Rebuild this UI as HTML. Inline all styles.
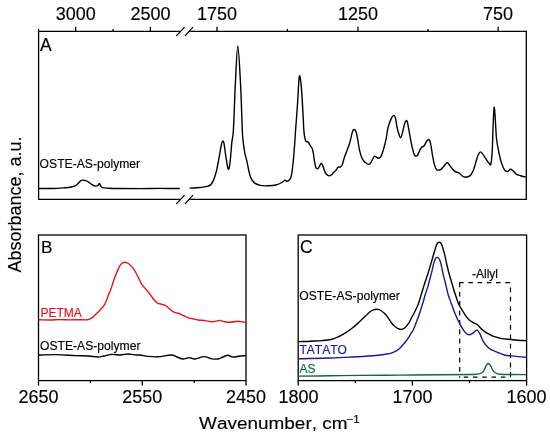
<!DOCTYPE html>
<html><head><meta charset="utf-8"><title>FTIR spectra</title>
<style>
html,body{margin:0;padding:0;background:#fff;}
svg{display:block;font-family:"Liberation Sans",Arial,sans-serif;font-kerning:none;font-feature-settings:"kern" 0;}
text{stroke:currentColor;stroke-width:0.15px;paint-order:stroke;}
</style></head>
<body>
<svg width="550" height="437" viewBox="0 0 550 437">
<rect width="550" height="437" fill="#fff"/>
<line x1="37.95" y1="31.3" x2="180.3" y2="31.3" stroke="#000" stroke-width="1.3"/>
<line x1="189.2" y1="31.3" x2="526.9499999999999" y2="31.3" stroke="#000" stroke-width="1.3"/>
<line x1="37.95" y1="199.3" x2="180.3" y2="199.3" stroke="#000" stroke-width="1.3"/>
<line x1="189.2" y1="199.3" x2="526.9499999999999" y2="199.3" stroke="#000" stroke-width="1.3"/>
<line x1="38.6" y1="31.3" x2="38.6" y2="199.3" stroke="#000" stroke-width="1.3"/>
<line x1="526.3" y1="31.3" x2="526.3" y2="199.3" stroke="#000" stroke-width="1.3"/>
<line x1="176.3" y1="35.9" x2="184.6" y2="27.1" stroke="#000" stroke-width="1.3"/>
<line x1="185.0" y1="35.9" x2="193.0" y2="27.1" stroke="#000" stroke-width="1.3"/>
<line x1="176.3" y1="203.9" x2="184.6" y2="195.10000000000002" stroke="#000" stroke-width="1.3"/>
<line x1="185.0" y1="203.9" x2="193.0" y2="195.10000000000002" stroke="#000" stroke-width="1.3"/>
<line x1="38.6" y1="28.900000000000002" x2="38.6" y2="31.3" stroke="#000" stroke-width="1.3"/>
<line x1="75.7" y1="26.8" x2="75.7" y2="31.3" stroke="#000" stroke-width="1.3"/>
<line x1="113.1" y1="28.900000000000002" x2="113.1" y2="31.3" stroke="#000" stroke-width="1.3"/>
<line x1="150.4" y1="26.8" x2="150.4" y2="31.3" stroke="#000" stroke-width="1.3"/>
<line x1="217" y1="26.8" x2="217" y2="31.3" stroke="#000" stroke-width="1.3"/>
<line x1="287.4" y1="28.900000000000002" x2="287.4" y2="31.3" stroke="#000" stroke-width="1.3"/>
<line x1="358" y1="26.8" x2="358" y2="31.3" stroke="#000" stroke-width="1.3"/>
<line x1="428" y1="28.900000000000002" x2="428" y2="31.3" stroke="#000" stroke-width="1.3"/>
<line x1="498.1" y1="26.8" x2="498.1" y2="31.3" stroke="#000" stroke-width="1.3"/>
<text transform="translate(75.7,19.6) scale(1,1.065)" font-size="18" text-anchor="middle" fill="#000" color="#000">3000</text>
<text transform="translate(150.4,19.6) scale(1,1.065)" font-size="18" text-anchor="middle" fill="#000" color="#000">2500</text>
<text transform="translate(217,19.6) scale(1,1.065)" font-size="18" text-anchor="middle" fill="#000" color="#000">1750</text>
<text transform="translate(358,19.6) scale(1,1.065)" font-size="18" text-anchor="middle" fill="#000" color="#000">1250</text>
<text transform="translate(498.1,19.6) scale(1,1.065)" font-size="18" text-anchor="middle" fill="#000" color="#000">750</text>
<text x="40.0" y="50.5" font-size="17.5" text-anchor="start" fill="#000" color="#000">A</text>
<text x="39.6" y="167.6" font-size="12.15" text-anchor="start" fill="#000" color="#000">OSTE-AS-polymer</text>
<path d="M38.6,188.5 C40.9,188.5 48.5,188.6 52.5,188.5 C56.5,188.4 59.5,188.2 62.7,187.9 C65.9,187.7 69.2,187.5 71.5,187.0 C73.8,186.5 74.9,186.1 76.5,185.0 C78.1,183.9 79.7,181.4 80.9,180.6 C82.1,179.8 82.7,180.1 83.8,180.2 C84.9,180.3 86.2,180.6 87.5,181.3 C88.8,182.0 90.6,183.7 91.8,184.5 C93.0,185.3 93.7,185.8 94.7,186.0 C95.7,186.2 96.8,186.1 97.6,185.7 C98.4,185.3 98.9,183.4 99.4,183.5 C99.9,183.6 100.2,185.3 100.8,186.0 C101.3,186.7 101.5,187.3 102.7,187.7 C103.9,188.1 105.2,188.1 107.8,188.2 C110.3,188.3 112.6,188.4 118.0,188.5 C123.4,188.6 133.0,188.6 140.0,188.6 C147.0,188.6 153.4,188.4 160.0,188.4 C166.6,188.4 176.5,188.5 179.8,188.5" fill="none" stroke="#000" stroke-width="1.4"/>
<path d="M189.5,188.1 C190.7,188.1 194.2,188.1 196.9,187.8 C199.6,187.6 203.6,187.1 205.8,186.6 C208.0,186.1 209.1,186.1 210.3,185.1 C211.6,184.1 212.3,182.8 213.3,180.6 C214.3,178.4 215.3,175.7 216.3,171.7 C217.3,167.7 218.3,161.4 219.2,156.8 C220.1,152.2 220.9,146.7 221.5,144.1 C222.1,141.5 222.3,141.3 222.7,141.2 C223.1,141.1 223.5,140.8 224.0,143.4 C224.5,146.0 225.2,152.5 225.9,156.8 C226.6,161.1 227.5,168.0 228.2,169.0 C228.9,170.0 229.4,167.3 230.0,162.8 C230.6,158.3 231.3,147.4 231.9,141.9 C232.5,136.4 232.8,139.5 233.4,130.0 C234.0,120.5 234.6,99.0 235.3,85.0 C236.0,71.0 236.9,46.0 237.8,46.0 C238.7,46.0 239.8,71.0 240.6,85.0 C241.3,99.0 241.9,120.5 242.3,130.0 C242.7,139.5 242.8,138.2 243.2,141.9 C243.6,145.6 244.1,149.1 244.7,152.3 C245.3,155.5 246.2,158.3 246.9,161.3 C247.6,164.3 248.1,167.5 248.7,170.2 C249.3,172.9 249.8,175.5 250.7,177.6 C251.6,179.7 252.8,181.6 254.4,182.9 C256.0,184.2 258.1,184.9 260.3,185.4 C262.5,185.9 265.1,185.9 267.8,185.8 C270.5,185.7 274.4,185.4 276.7,184.8 C279.0,184.2 280.5,183.2 281.9,182.4 C283.3,181.7 284.0,180.5 284.9,180.3 C285.8,180.1 286.3,181.6 287.1,181.4 C287.9,181.2 289.1,180.5 289.8,179.4 C290.6,178.3 291.0,178.0 291.6,174.7 C292.2,171.4 292.9,164.8 293.4,159.8 C293.9,154.8 294.2,149.9 294.6,144.9 C295.0,139.9 295.1,137.0 295.6,130.0 C296.1,123.0 297.0,111.7 297.6,102.7 C298.2,93.8 298.7,78.8 299.3,76.3 C299.9,73.8 300.8,81.1 301.4,87.6 C302.0,94.1 302.7,108.3 303.1,115.3 C303.5,122.3 303.5,125.8 303.8,129.6 C304.1,133.4 304.5,136.4 304.9,138.4 C305.3,140.4 305.7,141.0 306.2,141.6 C306.7,142.2 307.4,141.4 308.1,142.1 C308.8,142.8 309.5,144.5 310.2,145.6 C310.9,146.7 311.8,147.5 312.3,148.8 C312.8,150.1 313.0,151.5 313.4,153.6 C313.8,155.7 314.1,159.3 314.5,161.6 C314.9,163.9 315.3,166.0 315.8,167.2 C316.3,168.4 317.0,169.1 317.7,168.8 C318.4,168.5 319.2,166.5 319.8,165.6 C320.4,164.7 320.9,163.1 321.4,163.2 C321.9,163.3 322.3,164.8 323.0,166.4 C323.7,168.0 324.5,171.2 325.4,172.8 C326.3,174.4 327.7,175.3 328.6,175.7 C329.5,176.1 330.2,175.7 331.0,175.2 C331.8,174.7 332.6,173.6 333.4,172.8 C334.2,172.0 335.1,171.3 335.8,170.4 C336.6,169.5 337.2,167.7 337.9,167.2 C338.6,166.7 339.4,167.6 340.1,167.2 C340.8,166.8 341.4,166.5 342.2,164.8 C342.9,163.1 343.8,159.2 344.6,156.8 C345.4,154.4 346.2,152.5 347.0,150.4 C347.8,148.3 348.7,146.1 349.4,144.0 C350.1,141.9 350.5,139.7 351.0,137.6 C351.5,135.5 352.1,132.5 352.6,131.2 C353.2,129.8 353.7,129.4 354.3,129.5 C354.9,129.6 355.4,130.0 356.0,131.7 C356.6,133.3 357.1,136.4 357.7,139.4 C358.3,142.4 358.7,146.5 359.4,149.7 C360.1,152.8 361.0,156.2 362.0,158.3 C363.0,160.5 364.2,161.6 365.4,162.6 C366.5,163.6 367.9,164.5 368.9,164.3 C369.9,164.2 370.5,163.0 371.4,161.7 C372.2,160.4 373.3,157.4 374.0,156.6 C374.7,155.8 375.0,156.3 375.7,156.6 C376.4,156.9 377.4,158.3 378.3,158.3 C379.2,158.3 380.0,158.0 380.9,156.6 C381.8,155.2 382.5,152.6 383.4,149.7 C384.2,146.8 385.2,143.1 386.0,139.4 C386.8,135.7 387.2,130.8 388.1,127.4 C389.0,124.0 390.2,120.9 391.1,118.9 C392.0,116.9 393.0,115.6 393.7,115.4 C394.4,115.2 394.8,116.0 395.4,118.0 C396.0,120.0 396.5,124.7 397.1,127.4 C397.7,130.1 398.3,132.6 398.9,134.3 C399.5,136.0 400.0,137.8 400.6,137.7 C401.2,137.5 401.7,135.7 402.3,133.4 C402.9,131.1 403.9,126.1 404.5,124.0 C405.1,121.9 405.7,120.8 406.2,120.6 C406.7,120.4 407.1,121.0 407.6,122.9 C408.1,124.9 408.6,128.5 409.3,132.3 C410.0,136.2 411.0,142.2 411.9,146.0 C412.8,149.8 413.5,153.2 414.4,154.9 C415.2,156.6 416.3,156.2 417.0,155.9 C417.7,155.6 418.0,154.3 418.7,152.9 C419.4,151.5 420.4,148.8 421.3,147.7 C422.2,146.5 423.0,147.0 423.9,146.0 C424.8,145.0 425.6,142.8 426.4,141.7 C427.2,140.6 428.0,139.3 428.7,139.5 C429.4,139.7 429.8,140.1 430.4,142.6 C431.0,145.1 431.7,150.9 432.4,154.6 C433.1,158.3 433.8,162.4 434.5,164.9 C435.2,167.4 435.9,168.8 436.7,169.7 C437.5,170.5 438.5,170.1 439.3,170.0 C440.1,169.9 440.6,169.7 441.3,169.1 C442.0,168.5 442.8,167.5 443.6,166.6 C444.4,165.7 445.4,164.1 446.1,163.5 C446.8,162.9 447.3,162.4 447.9,162.8 C448.5,163.2 449.2,164.7 449.9,165.7 C450.6,166.7 451.3,167.6 452.1,168.6 C452.9,169.6 453.7,170.7 454.7,171.4 C455.7,172.1 457.2,172.2 458.1,172.6 C459.0,173.0 459.3,173.1 460.0,173.7 C460.7,174.2 461.3,175.3 462.2,175.9 C463.1,176.5 464.1,177.2 465.4,177.2 C466.7,177.2 468.5,176.9 469.8,175.9 C471.1,174.9 472.1,173.0 473.0,171.1 C473.9,169.2 474.5,166.9 475.2,164.6 C475.9,162.2 476.6,159.1 477.4,157.0 C478.2,154.9 479.3,152.5 480.2,152.0 C481.1,151.5 481.8,152.9 482.8,154.1 C483.8,155.3 485.0,157.5 486.1,159.1 C487.2,160.7 488.5,162.7 489.3,163.5 C490.1,164.3 490.4,166.1 490.9,164.1 C491.4,162.1 491.8,157.4 492.2,151.5 C492.6,145.6 492.7,135.9 493.0,128.6 C493.3,121.3 493.7,109.4 494.1,107.6 C494.5,105.8 494.8,112.3 495.2,117.5 C495.6,122.7 495.9,132.8 496.5,138.5 C497.1,144.2 497.9,147.5 498.7,151.5 C499.5,155.5 500.3,159.3 501.3,162.4 C502.3,165.5 503.6,168.5 504.6,170.0 C505.6,171.5 506.4,171.6 507.4,171.5 C508.4,171.4 509.4,169.4 510.4,169.3 C511.4,169.2 512.3,170.3 513.3,171.1 C514.3,171.9 515.4,173.6 516.5,174.3 C517.6,175.0 518.7,175.0 519.8,175.4 C520.9,175.8 522.0,176.3 523.0,176.5 C524.0,176.7 525.2,176.7 525.7,176.7" fill="none" stroke="#000" stroke-width="1.4"/>
<rect x="38.5" y="235.0" width="207.5" height="145.60000000000002" fill="none" stroke="#000" stroke-width="1.3"/>
<line x1="38.5" y1="380.6" x2="38.5" y2="385.6" stroke="#000" stroke-width="1.3"/>
<line x1="90.4" y1="380.6" x2="90.4" y2="383.1" stroke="#000" stroke-width="1.3"/>
<line x1="142.3" y1="380.6" x2="142.3" y2="385.6" stroke="#000" stroke-width="1.3"/>
<line x1="194.2" y1="380.6" x2="194.2" y2="383.1" stroke="#000" stroke-width="1.3"/>
<line x1="246.0" y1="380.6" x2="246.0" y2="385.6" stroke="#000" stroke-width="1.3"/>
<text transform="translate(38.5,403) scale(1,1.065)" font-size="18" text-anchor="middle" fill="#000" color="#000">2650</text>
<text transform="translate(142.3,403) scale(1,1.065)" font-size="18" text-anchor="middle" fill="#000" color="#000">2550</text>
<text transform="translate(246.0,403) scale(1,1.065)" font-size="18" text-anchor="middle" fill="#000" color="#000">2450</text>
<text x="40.9" y="252.5" font-size="17.2" text-anchor="start" fill="#000" color="#000">B</text>
<text x="40.5" y="316.6" font-size="12" text-anchor="start" fill="#ec1118" color="#ec1118">PETMA</text>
<text x="40" y="350.4" font-size="12.15" text-anchor="start" fill="#000" color="#000">OSTE-AS-polymer</text>
<path d="M38.6,319.8 C40.5,319.8 46.4,320.0 50.0,320.0 C53.6,320.0 56.7,319.6 60.0,319.6 C63.3,319.6 66.7,319.9 70.0,319.9 C73.3,319.9 77.1,319.7 80.0,319.7 C82.9,319.7 85.5,320.1 87.5,319.8 C89.5,319.5 90.8,318.7 92.0,317.9 C93.2,317.1 93.7,316.4 95.0,315.1 C96.3,313.8 98.2,312.0 99.8,310.3 C101.4,308.6 103.3,307.0 104.6,304.7 C105.9,302.4 106.7,299.4 107.8,296.7 C108.9,294.0 109.9,291.6 111.0,288.7 C112.1,285.8 113.1,281.9 114.2,279.0 C115.3,276.1 116.3,273.4 117.4,271.0 C118.5,268.6 119.4,266.1 120.6,264.6 C121.8,263.1 123.2,262.3 124.6,262.2 C125.9,262.1 127.2,262.7 128.7,263.8 C130.2,264.9 132.0,266.6 133.5,268.6 C135.0,270.6 136.2,273.3 137.5,275.8 C138.8,278.3 140.2,281.7 141.5,283.8 C142.8,285.9 144.2,287.1 145.5,288.7 C146.8,290.3 148.2,291.8 149.5,293.5 C150.8,295.2 152.2,297.5 153.5,299.1 C154.8,300.7 156.0,302.2 157.5,303.1 C159.0,304.0 160.8,303.9 162.3,304.4 C163.8,304.9 165.0,305.1 166.3,306.0 C167.6,306.9 169.1,308.5 170.3,309.5 C171.5,310.5 172.1,311.2 173.5,311.9 C174.9,312.6 177.2,312.9 178.9,313.5 C180.6,314.1 181.9,314.8 183.5,315.5 C185.1,316.2 186.6,317.3 188.2,317.8 C189.8,318.3 191.1,318.3 192.8,318.7 C194.5,319.1 196.1,319.7 198.2,320.0 C200.3,320.3 202.9,320.3 205.2,320.6 C207.5,320.9 209.6,321.8 212.1,321.8 C214.6,321.8 217.8,320.4 219.9,320.4 C222.0,320.4 222.7,321.4 224.5,321.7 C226.3,322.0 228.5,322.4 230.7,322.3 C232.9,322.2 235.1,321.2 237.6,321.2 C240.1,321.2 244.4,322.3 245.8,322.5" fill="none" stroke="#ec1118" stroke-width="1.4"/>
<path d="M38.6,355.0 C41.5,354.9 49.8,354.5 56.0,354.6 C62.2,354.7 70.7,355.4 76.0,355.6 C81.3,355.8 84.3,355.8 88.0,356.0 C91.7,356.2 95.3,357.0 98.0,357.0 C100.7,357.0 101.7,356.4 104.0,356.0 C106.3,355.6 109.3,354.6 112.0,354.4 C114.7,354.2 117.3,355.1 120.0,355.0 C122.7,354.9 125.3,354.0 128.0,354.0 C130.7,354.0 134.0,354.8 136.0,355.0 C138.0,355.2 138.0,354.8 140.0,355.0 C142.0,355.2 145.0,356.1 148.0,356.4 C151.0,356.7 154.2,357.0 158.0,356.8 C161.8,356.6 167.8,355.0 171.0,355.0 C174.2,355.0 175.0,356.3 177.0,357.0 C179.0,357.7 181.0,358.9 183.0,359.0 C185.0,359.1 187.0,357.6 189.0,357.6 C191.0,357.6 192.5,359.2 195.0,359.0 C197.5,358.8 201.3,356.7 204.0,356.6 C206.7,356.5 208.7,358.2 211.0,358.6 C213.3,359.0 216.0,359.3 218.0,359.0 C220.0,358.7 221.3,357.6 223.0,357.0 C224.7,356.4 226.3,355.2 228.0,355.2 C229.7,355.2 231.0,356.9 233.0,357.0 C235.0,357.1 237.9,356.2 240.0,356.0 C242.1,355.8 244.8,355.7 245.8,355.6" fill="none" stroke="#000" stroke-width="1.4"/>
<rect x="298.2" y="235.0" width="228.40000000000003" height="145.60000000000002" fill="none" stroke="#000" stroke-width="1.3"/>
<line x1="298.2" y1="380.6" x2="298.2" y2="385.6" stroke="#000" stroke-width="1.3"/>
<line x1="355.3" y1="380.6" x2="355.3" y2="383.1" stroke="#000" stroke-width="1.3"/>
<line x1="412.4" y1="380.6" x2="412.4" y2="385.6" stroke="#000" stroke-width="1.3"/>
<line x1="469.5" y1="380.6" x2="469.5" y2="383.1" stroke="#000" stroke-width="1.3"/>
<line x1="526.6" y1="380.6" x2="526.6" y2="385.6" stroke="#000" stroke-width="1.3"/>
<text transform="translate(298.4,403) scale(1,1.065)" font-size="18" text-anchor="middle" fill="#000" color="#000">1800</text>
<text transform="translate(412.4,403) scale(1,1.065)" font-size="18" text-anchor="middle" fill="#000" color="#000">1700</text>
<text transform="translate(526.6,403) scale(1,1.065)" font-size="18" text-anchor="middle" fill="#000" color="#000">1600</text>
<text x="300" y="252.5" font-size="17.5" text-anchor="start" fill="#000" color="#000">C</text>
<text x="299.3" y="299.6" font-size="12.15" text-anchor="start" fill="#000" color="#000">OSTE-AS-polymer</text>
<text x="299.5" y="353.5" font-size="12" text-anchor="start" fill="#18189a" color="#18189a">TATATO</text>
<text x="299.5" y="372.8" font-size="12" text-anchor="start" fill="#0c6a45" color="#0c6a45">AS</text>
<text x="472" y="278.1" font-size="12" text-anchor="start" fill="#000" color="#000">-Allyl</text>
<line x1="459.1" y1="282.6" x2="511.1" y2="282.6" stroke="#000" stroke-width="1.2" stroke-dasharray="4.6 4.62"/>
<line x1="459.7" y1="282.3" x2="459.7" y2="377.8" stroke="#000" stroke-width="1.2" stroke-dasharray="4.9 4.5"/>
<line x1="510.5" y1="282.6" x2="510.5" y2="377.0" stroke="#000" stroke-width="1.2" stroke-dasharray="4.8 4.6" stroke-dashoffset="4.6"/>
<line x1="459.7" y1="377.2" x2="510.5" y2="377.2" stroke="#000" stroke-width="1.2" stroke-dasharray="4.5 4.78" stroke-dashoffset="5.28"/>
<path d="M298.3,376.1 C303.6,376.1 319.7,375.9 330.0,375.8 C340.3,375.7 348.3,375.5 360.0,375.4 C371.7,375.3 386.7,375.2 400.0,375.1 C413.3,375.0 428.3,374.9 440.0,374.8 C451.7,374.7 463.8,374.6 470.0,374.5 C476.2,374.4 475.3,374.2 477.0,374.1 C478.7,374.0 479.1,374.0 480.0,373.7 C480.9,373.4 481.9,372.9 482.6,372.3 C483.3,371.7 483.7,370.9 484.3,369.8 C484.9,368.7 485.4,366.7 486.1,365.6 C486.8,364.6 487.6,363.5 488.3,363.5 C489.1,363.5 489.9,364.6 490.6,365.6 C491.3,366.7 491.9,368.7 492.6,369.8 C493.3,370.9 493.8,371.7 494.6,372.3 C495.4,372.9 496.3,373.3 497.2,373.6 C498.1,373.9 497.9,374.1 500.0,374.2 C502.1,374.3 505.7,374.4 510.0,374.5 C514.3,374.6 523.3,374.6 526.0,374.6" fill="none" stroke="#0c6a45" stroke-width="1.4"/>
<path d="M298.3,358.8 C300.2,358.8 304.7,358.6 310.0,358.5 C315.3,358.4 323.3,358.2 330.0,358.0 C336.7,357.8 344.6,357.4 350.0,357.1 C355.4,356.9 358.4,356.8 362.7,356.5 C366.9,356.2 371.7,355.9 375.5,355.5 C379.3,355.1 382.9,354.6 385.6,354.2 C388.4,353.8 390.1,353.5 392.0,352.9 C393.9,352.3 395.6,351.3 397.1,350.4 C398.6,349.4 399.6,348.5 400.9,347.2 C402.2,345.9 403.4,344.3 404.7,342.7 C406.0,341.1 407.4,339.2 408.5,337.6 C409.6,336.1 410.2,334.6 411.0,333.4 C411.8,332.2 412.2,332.3 413.1,330.3 C414.0,328.3 415.5,324.6 416.6,321.5 C417.8,318.4 418.9,315.4 420.0,312.0 C421.1,308.6 422.5,304.0 423.4,301.2 C424.2,298.4 424.4,297.4 425.1,295.0 C425.8,292.6 426.9,290.0 427.7,287.1 C428.5,284.2 429.4,280.7 430.2,277.8 C431.0,274.9 431.7,272.1 432.3,269.6 C432.9,267.1 433.4,264.4 433.9,262.6 C434.4,260.8 434.9,259.7 435.4,258.8 C435.9,257.9 436.3,257.5 436.9,257.4 C437.5,257.3 438.2,257.7 438.8,258.4 C439.4,259.1 439.9,260.3 440.4,261.8 C440.9,263.3 441.3,265.5 441.8,267.6 C442.3,269.7 442.7,272.4 443.2,274.6 C443.7,276.8 444.3,278.6 444.8,280.7 C445.3,282.8 445.8,284.6 446.3,286.9 C446.9,289.2 447.3,291.8 448.1,294.5 C448.9,297.2 450.2,300.4 451.2,303.2 C452.2,306.0 453.2,308.9 454.2,311.5 C455.2,314.1 456.3,316.5 457.3,318.7 C458.3,320.9 459.4,323.0 460.4,324.9 C461.4,326.8 462.5,328.6 463.5,330.1 C464.5,331.6 465.6,332.9 466.6,333.7 C467.6,334.5 468.7,334.8 469.7,334.7 C470.7,334.6 471.9,333.7 472.8,333.1 C473.7,332.5 474.5,331.5 475.2,331.0 C475.9,330.5 476.3,329.8 477.1,330.2 C477.9,330.6 478.7,331.7 479.8,333.6 C480.9,335.6 482.0,339.4 483.5,341.9 C485.0,344.3 486.9,346.6 489.0,348.3 C491.1,350.0 493.7,350.8 496.3,351.9 C498.9,353.0 501.9,354.3 504.4,355.0 C506.9,355.7 508.9,355.6 511.2,355.9 C513.5,356.2 515.6,356.4 518.1,356.6 C520.6,356.8 524.7,357.2 526.0,357.3" fill="none" stroke="#18189a" stroke-width="1.4"/>
<path d="M298.3,341.6 C300.3,341.5 306.5,341.4 310.5,341.2 C314.5,341.0 318.8,340.9 322.2,340.6 C325.6,340.3 328.2,340.1 330.9,339.5 C333.6,338.9 335.8,337.9 338.2,336.8 C340.6,335.7 343.1,334.4 345.5,332.9 C347.9,331.4 350.3,329.7 352.7,327.8 C355.1,325.9 357.8,323.3 360.0,321.3 C362.2,319.3 364.4,317.1 366.0,315.6 C367.6,314.1 368.2,313.1 369.4,312.2 C370.5,311.3 371.6,310.6 372.9,310.1 C374.1,309.6 375.6,309.2 376.9,309.3 C378.2,309.4 379.7,309.8 380.9,310.5 C382.1,311.2 383.1,312.2 384.3,313.3 C385.5,314.4 386.7,315.8 387.8,317.3 C388.9,318.8 390.1,321.0 391.2,322.5 C392.3,324.0 393.5,325.2 394.6,326.2 C395.8,327.2 397.0,328.1 398.1,328.6 C399.2,329.1 400.4,329.5 401.5,329.4 C402.6,329.3 403.8,328.8 404.9,327.8 C406.0,326.8 407.2,325.4 408.4,323.6 C409.5,321.9 410.7,319.4 411.8,317.3 C412.9,315.2 414.1,313.4 415.2,311.0 C416.3,308.6 417.5,306.3 418.7,303.0 C419.9,299.7 421.1,294.7 422.2,291.2 C423.3,287.7 424.1,285.1 425.1,282.0 C426.1,278.9 427.2,276.0 428.2,272.7 C429.2,269.4 430.3,265.9 431.3,262.4 C432.3,258.9 433.5,254.7 434.4,251.8 C435.2,249.0 435.8,246.8 436.4,245.3 C437.0,243.8 437.5,243.3 438.0,242.8 C438.5,242.3 438.9,242.2 439.3,242.2 C439.7,242.2 440.2,242.2 440.6,242.8 C441.1,243.4 441.5,244.4 442.0,245.6 C442.5,246.8 443.0,248.6 443.5,250.2 C444.0,251.8 444.2,252.7 444.8,255.1 C445.4,257.5 446.2,261.8 446.9,264.8 C447.6,267.8 448.1,270.0 448.9,273.0 C449.7,276.0 450.8,279.5 451.7,282.6 C452.6,285.7 453.6,289.2 454.4,291.8 C455.2,294.4 455.8,295.8 456.5,298.0 C457.2,300.2 458.0,302.9 458.9,304.8 C459.8,306.7 460.9,308.0 461.7,309.3 C462.5,310.6 463.0,311.6 463.7,312.7 C464.4,313.8 465.0,314.8 465.8,315.9 C466.6,317.0 467.5,318.3 468.7,319.4 C469.9,320.5 471.6,321.6 472.8,322.4 C474.0,323.1 475.0,323.4 475.9,323.9 C476.8,324.4 476.9,324.2 478.0,325.2 C479.1,326.2 480.9,328.6 482.6,330.0 C484.3,331.4 486.0,332.5 488.0,333.6 C490.0,334.7 492.2,335.9 494.5,336.7 C496.8,337.5 499.1,338.1 501.8,338.6 C504.6,339.1 508.3,339.2 511.0,339.5 C513.7,339.8 515.5,340.0 518.0,340.2 C520.5,340.4 524.7,340.5 526.0,340.6" fill="none" stroke="#000" stroke-width="1.4"/>
<text x="0" y="0" font-size="17.5" text-anchor="middle" transform="translate(21,204.5) rotate(-90) scale(1.028,1)">Absorbance, a.u.</text>
<text transform="translate(199,428.7) scale(1.115,1)" font-size="17">Wavenumber, cm</text>
<text x="346.6" y="423.2" font-size="11.5">−1</text>
</svg>
</body></html>
